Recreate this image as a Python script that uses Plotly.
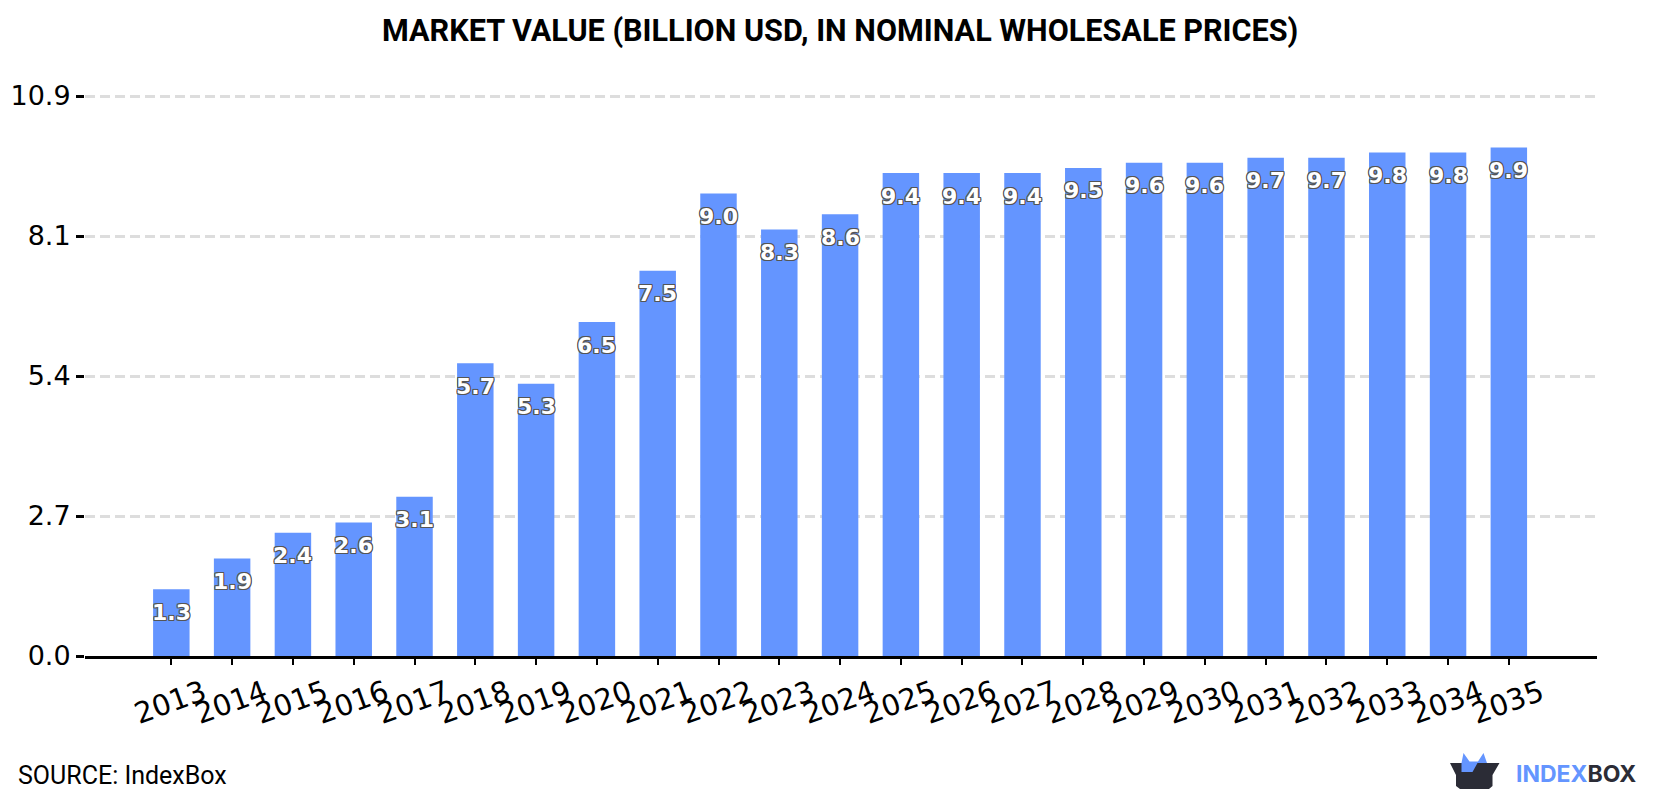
import plotly.graph_objects as go

years = list(range(2013, 2036))
values = [1.3, 1.9, 2.4, 2.6, 3.1, 5.7, 5.3, 6.5, 7.5, 9.0, 8.3, 8.6,
          9.4, 9.4, 9.4, 9.5, 9.6, 9.6, 9.7, 9.7, 9.8, 9.8, 9.9]
y_ticks = [0.0, 2.725, 5.45, 8.175, 10.9]
y_tick_labels = ["0.0", "2.7", "5.4", "8.1", "10.9"]

TITLE = "MARKET VALUE (BILLION USD, IN NOMINAL WHOLESALE PRICES)"
SOURCE = "SOURCE: IndexBox"
BAR_BLUE = "#6495ff"
LOGO_DARK = "#2b2c36"

W, H = 1680, 800
L, R, T, B = 85, 83, 92, 144
# Headroom above the last tick so its gridline is kept by the axis
Y_TOP = 10.9 * (H - T - B) / 560


def page_x(px):
    return (px - L) / (W - L - R)


def page_y(py):
    return 1 - (py - T) / (H - T - B)


def logo_path(points):
    # Closed polygon given in page pixels, expressed in paper coordinates
    cmds = [f"{'M' if i == 0 else 'L'} {page_x(x):.5f} {page_y(y):.5f}"
            for i, (x, y) in enumerate(points)]
    return " ".join(cmds) + " Z"


tray = [(1450, 763), (1499.5, 763), (1492.5, 775), (1492.5, 786), (1489, 789),
        (1460, 789), (1456, 786), (1456, 775)]
crown = [(1461.5, 763), (1463.5, 753), (1469.5, 761.5), (1478, 761.5), (1483.5, 753),
         (1487, 763), (1477.5, 763), (1472.5, 772), (1461.5, 772)]

OUTLINE = ", ".join(f"{dx}px {dy}px 0 #555" for dx, dy in
                    ((1, 0), (-1, 0), (0, 1), (0, -1), (1, 1), (-1, -1), (1, -1), (-1, 1)))

fig = go.Figure(go.Bar(x=years, y=values, width=0.6, marker=dict(color=BAR_BLUE, line_width=0),
                       hoverinfo="skip"))

# Value labels sit a fixed distance under each bar top
for year, value in zip(years, values):
    fig.add_annotation(
        x=year, y=value, yshift=-23, text=f"{value:.1f}", showarrow=False,
        font=dict(family="DejaVu Sans", size=22, color="white", weight="bold", shadow=OUTLINE),
    )

fig.add_annotation(xref="paper", yref="paper", x=page_x(840), y=page_y(31), text=f"<b>{TITLE}</b>",
                   showarrow=False, xanchor="center", yanchor="middle",
                   font=dict(family="Roboto", size=30.6, color="black"))
fig.add_annotation(xref="paper", yref="paper", x=page_x(17), y=page_y(775), text=SOURCE,
                   showarrow=False, xanchor="left", yanchor="middle", xshift=-1,
                   font=dict(family="Roboto", size=25, color="black"))
fig.add_annotation(xref="paper", yref="paper", x=page_x(1514), y=page_y(774),
                   text=f"<b><span style='color:{BAR_BLUE}'>INDEX</span>BOX</b>",
                   showarrow=False, xanchor="left", yanchor="middle",
                   font=dict(family="Inter", size=23, color=LOGO_DARK, weight="bold"))

for pts, colour in ((tray, LOGO_DARK), (crown, BAR_BLUE)):
    fig.add_shape(type="path", xref="paper", yref="paper", path=logo_path(pts),
                  fillcolor=colour, line_width=0)

fig.update_layout(
    width=W, height=H, margin=dict(l=L, r=R, t=T, b=B, autoexpand=False),
    paper_bgcolor="white", plot_bgcolor="white", showlegend=False,
    xaxis=dict(
        range=[2013 - 1.42, 2035 + 1.45], tickmode="array", tickvals=years,
        ticktext=[str(y) for y in years], tickangle=-20, ticks="outside", ticklen=6, tickwidth=2,
        tickcolor="black", showline=True, linecolor="black", linewidth=3, showgrid=False,
        zeroline=False, ticklabelshift=32, ticklabelstandoff=0,
        tickfont=dict(family="DejaVu Sans", size=29, color="black"),
    ),
    yaxis=dict(
        range=[0, Y_TOP], tickmode="array", tickvals=y_ticks, ticktext=y_tick_labels,
        ticks="outside", ticklen=8, tickwidth=2.5, tickcolor="black", showline=False,
        showgrid=True, gridcolor="#dddddd", gridwidth=2.5, griddash="10px,5px", zeroline=False,
        tickfont=dict(family="DejaVu Sans", size=27, color="black"),
    ),
)

fig.write_html("out.html")
